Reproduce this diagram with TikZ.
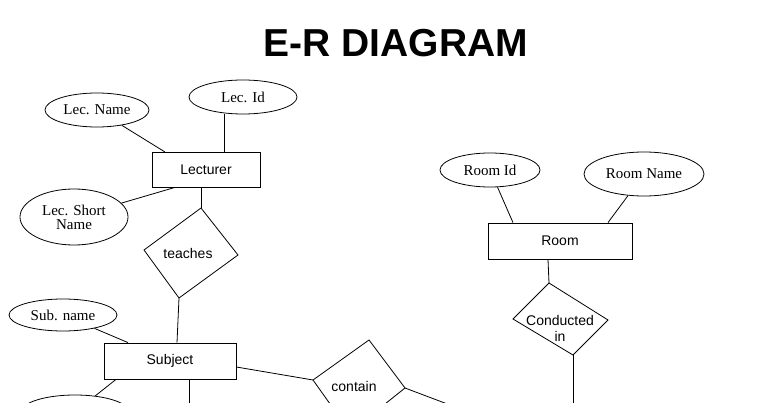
\documentclass[tikz,border=0pt]{standalone}
\usepackage{fontspec}
\usetikzlibrary{shapes.geometric}
\setmainfont{Liberation Serif}
\newfontfamily\ssf{Liberation Sans}
\begin{document}
\begin{tikzpicture}[x=1pt,y=-1pt,line width=0.8pt,
  attr/.style={draw,ellipse,inner sep=0pt,font=\fontsize{15}{14}\selectfont,align=center},
  ent/.style={draw,rectangle,inner sep=0pt,font=\ssf\fontsize{14}{15}\selectfont},
  lbl/.style={font=\ssf\fontsize{14}{16}\selectfont,align=center}]
\useasboundingbox (0,0) rectangle (768,403);
\clip (0,0) rectangle (768,403);
\node[font=\ssf\bfseries\fontsize{39}{42}\selectfont] (title) at (396,43) {E-R DIAGRAM};
% attributes
\node[attr,minimum width=104,minimum height=34] (lname) at (97,110) {Lec. Name};
\node[attr,minimum width=108,minimum height=34] (lid) at (243,97) {Lec. Id};
\node[attr,minimum width=108,minimum height=56] (lshort) at (74,217) {Lec. Short\\Name};
\node[attr,minimum width=108,minimum height=32] (sname) at (63,315) {Sub. name};
\node[attr,minimum width=108,minimum height=34] (bl) at (75,412) {};
\node[attr,minimum width=100,minimum height=34] (rid) at (490,170) {Room Id};
\node[attr,minimum width=120,minimum height=44] (rname) at (644,174) {Room Name};
% entities
\node[ent,minimum width=108,minimum height=35] (lect) at (206,169.5) {Lecturer};
\node[ent,minimum width=132,minimum height=36] (subj) at (170,361) {Subject};
\node[ent,minimum width=144,minimum height=36] (room) at (560,241) {Room};
% relationships (tilted diamonds)
\coordinate (tT) at (201,208); \coordinate (tR) at (238,255);
\coordinate (tB) at (179,298); \coordinate (tL) at (144,250);
\draw (tT)--(tR)--(tB)--(tL)--cycle;
\node[lbl] (teaches) at (188,253) {teaches};
\coordinate (cT) at (369,340); \coordinate (cR) at (405,388);
\coordinate (cB) at (350,432); \coordinate (cL) at (313,380);
\draw (cT)--(cR)--(cB)--(cL)--cycle;
\node[lbl] (contain) at (354,386) {contain};
\coordinate (dT) at (549,283); \coordinate (dR) at (608,320);
\coordinate (dB) at (573,355); \coordinate (dL) at (513,319);
\draw (dT)--(dR)--(dB)--(dL)--cycle;
\node[lbl] (cond) at (560,328) {Conducted\\in};
% connectors
\draw (lname) -- (165,152);
\draw (224,114) -- (lect.north -| 224,0);
\draw (lshort) -- ([xshift=-31pt]lect.south);
\draw ([xshift=-5pt]lect.south) -- (tT);
\draw (tB) -- ([xshift=7pt]subj.north);
\draw (sname) -- ([xshift=-42pt]subj.north);
\draw ([yshift=-6pt]subj.east) -- (cL);
\coordinate (e1) at (450,405);
\draw (cR) -- (e1);
\draw ([xshift=-54pt]subj.south) -- (bl);
\coordinate (e2) at (189,405);
\draw ([xshift=19pt]subj.south) -- (e2);
\draw (rid) -- ([xshift=-47pt]room.north);
\draw (rname) -- ([xshift=48pt]room.north);
\draw ([xshift=-12pt]room.south) -- (dT);
\coordinate (e3) at (573,405);
\draw (dB) -- (e3);
\end{tikzpicture}
\end{document}
